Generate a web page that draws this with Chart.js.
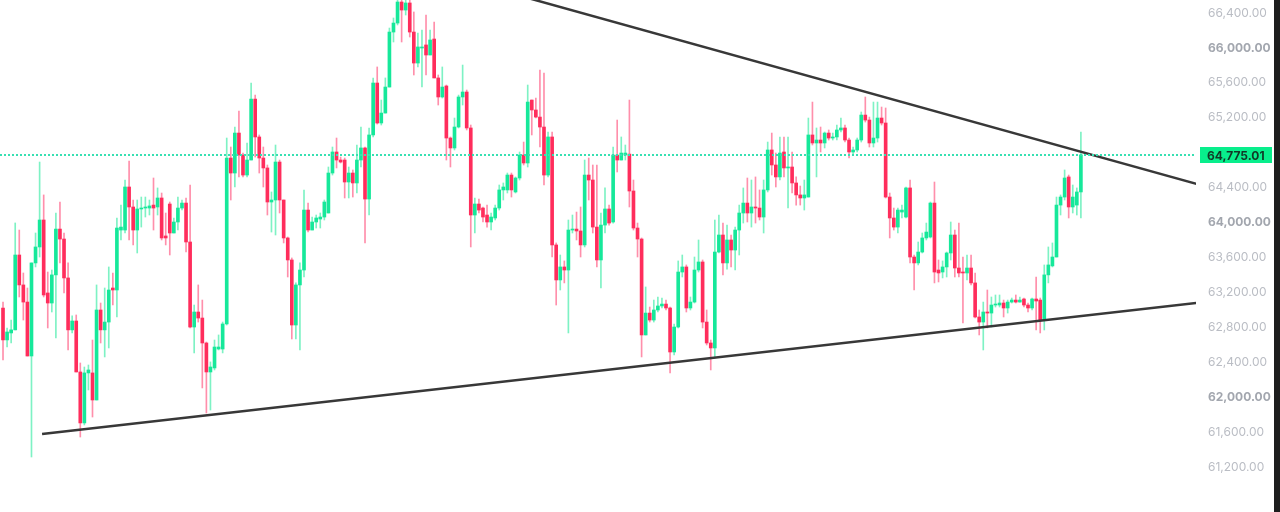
<!DOCTYPE html>
<html>
<head>
<meta charset="utf-8">
<title>BTC triángulo</title>
<script src="https://cdn.jsdelivr.net/npm/chart.js@4.4.1/dist/chart.umd.min.js"></script>
<style>
    html, body { margin: 0; padding: 0; background: #1e1e1e; }
    #wrap { width: 1274px; height: 512px; background: #ffffff; position: relative; }
</style>
</head>
<body>
<div id="wrap"><canvas id="candleChart"></canvas></div>
<script>
// Datos de las velas (apertura, máximo, mínimo, cierre)
const opens = [
    63020, 62655, 62735, 62770, 63628, 63285, 63089, 62471, 63537, 63720,
    64029, 63193, 63078, 63400, 63925, 63811, 63365, 62770, 62872, 62288,
    61704, 62277, 62277, 61967, 62998, 62770, 62860, 63250, 63227, 63914,
    63914, 64407, 64178, 63914, 64155, 64166, 64166, 64200, 64178, 64281,
    63846, 64212, 63880, 64006, 64166, 64223, 63777, 62803, 62975, 62906,
    62620, 62288, 62334, 62551, 62551, 62838, 64739, 64567, 65025, 64773,
    64544, 64716, 65414, 64980, 64739, 64625, 64235, 64258, 64693, 64258,
    63823, 63571, 62826, 63285, 63456, 64143, 63914, 64006, 64040, 64063,
    64109, 64567, 64808, 64716, 64716, 64464, 64567, 64453, 64716, 64854,
    64269, 65003, 65598, 65140, 65254, 65552, 66182, 66285, 66526, 66434,
    66515, 66182, 65827, 65999, 66034, 65919, 66102, 65656, 65438, 65564,
    64968, 64854, 65094, 65438, 65495, 65083, 64086, 64212, 64166, 64086,
    64006, 64052, 64166, 64373, 64373, 64544, 64350, 64510, 64773, 64682,
    65403, 65289, 65208, 65094, 64544, 64980, 63743, 63342, 63491, 63456,
    63914, 63925, 63903, 63743, 64544, 64487, 63948, 63571, 63971, 64155,
    64006, 64773, 64716, 64773, 64784, 64361, 63937, 63811, 62712, 62963,
    62883, 62998, 63044, 63066, 63021, 62517, 62803, 63433, 63491, 63021,
    63089, 63456, 63548, 62860, 62620, 62563, 63662, 63857, 63537, 63800,
    63685, 63914, 64109, 64223, 64109, 64178, 64166, 64063, 64373, 64831,
    64659, 64522, 64808, 64625, 64636, 64453, 64316, 64281, 64292, 65003,
    64911, 64945, 64911, 65025, 64968, 64980, 65060, 65083, 64945, 64808,
    64831, 64945, 65231, 65174, 64911, 64968, 65197, 65140, 64292, 64052,
    63948, 64120, 64063, 64396, 63605, 63537, 63662, 63823, 63834, 64223,
    63456, 63433, 63491, 63651, 63857, 63479, 63433, 63422, 63479, 63308,
    62918, 62860, 62975, 62963, 63055, 63055, 63078, 63021, 63089, 63112,
    63089, 63124, 63055, 63021, 63124, 63112, 62883, 63400, 63503, 63605,
    64200, 64292, 64522, 64178, 64200, 64350
];
const highs = [
    63090, 62791, 62883, 63995, 63914, 63422, 63250, 63537, 63880, 64693,
    64316, 63433, 63456, 64109, 64235, 63880, 63537, 62930, 62941, 62391,
    62345, 62368, 62654, 63285, 63078, 63250, 63491, 63422, 64052, 64200,
    64487, 64705, 64258, 64258, 64292, 64292, 64258, 64510, 64396, 64338,
    64109, 64235, 64052, 64292, 64258, 64281, 64430, 63055, 63285, 63112,
    62631, 62403, 62654, 62712, 62860, 64968, 64865, 65094, 65277, 64796,
    64911, 65598, 65460, 65003, 64865, 64659, 64350, 64888, 64716, 64258,
    63834, 63594, 63308, 63537, 64373, 64223, 64063, 64086, 64109, 64258,
    64636, 64865, 64968, 64750, 64739, 64636, 64602, 64888, 65094, 64865,
    65083, 65656, 65782, 65403, 65656, 66228, 66343, 66606, 66606, 66606,
    66606, 66412, 66171, 66205, 66377, 66205, 66297, 65690, 65782, 65575,
    64980, 65197, 65460, 65804, 65518, 65117, 64281, 64269, 64178, 64200,
    64109, 64200, 64430, 64453, 64567, 64567, 64522, 64808, 64922, 65575,
    65403, 65426, 65747, 65713, 65037, 65037, 63766, 63628, 63560, 64029,
    64086, 64120, 64178, 64716, 64739, 64659, 64659, 64109, 64396, 64200,
    64865, 65174, 64980, 64888, 65403, 64487, 63994, 63823, 63262, 63032,
    63112, 63147, 63135, 63112, 63032, 62838, 63560, 63628, 63514, 63147,
    63605, 63800, 63571, 62998, 62654, 64029, 64086, 63994, 63971, 63857,
    63948, 64200, 64396, 64510, 64487, 64522, 64373, 64487, 64922, 65025,
    64796, 64980, 64980, 64980, 64808, 64522, 64418, 64487, 65197, 65380,
    65083, 65094, 65037, 65060, 65025, 65117, 65197, 65117, 64968, 64865,
    64968, 65266, 65438, 65208, 65380, 65380, 65323, 65312, 64338, 64166,
    64166, 64200, 64407, 64487, 63628, 63777, 63880, 63994, 64235, 64464,
    63571, 63560, 63662, 64006, 63914, 63994, 63605, 63628, 63628, 63422,
    62998, 63089, 63227, 63147, 63170, 63170, 63112, 63112, 63135, 63170,
    63147, 63135, 63078, 63135, 63376, 63135, 63514, 63720, 63766, 64292,
    64316, 64602, 64544, 64430, 64396, 65037
];
const lows = [
    62425, 62574, 62620, 62770, 63147, 62883, 62471, 61314, 63491, 63605,
    63147, 62792, 62975, 62677, 63537, 63193, 62540, 62735, 62288, 61543,
    61681, 62082, 61772, 61967, 62620, 62460, 62563, 63055, 62918, 63800,
    63880, 63800, 63743, 63651, 63948, 64063, 64086, 63914, 64086, 63800,
    63743, 63628, 63880, 63914, 64143, 63662, 62792, 62506, 62860, 62105,
    61818, 61852, 62311, 62540, 62506, 62826, 64258, 64407, 64522, 64522,
    64522, 64716, 64750, 64567, 64407, 64086, 63891, 63857, 64109, 63766,
    63376, 62666, 62666, 62540, 63376, 63891, 63914, 63937, 63937, 64029,
    64109, 64544, 64625, 64682, 64281, 64281, 64292, 64338, 64636, 63766,
    64086, 64980, 65128, 65117, 65254, 65552, 66068, 66263, 66068, 66377,
    66125, 65690, 65782, 65552, 65690, 65919, 65656, 65346, 65426, 64716,
    64636, 64831, 65083, 65346, 65060, 63720, 63880, 64109, 64006, 63948,
    63914, 64029, 64143, 64258, 64338, 64292, 64338, 64487, 64659, 64636,
    65003, 65197, 64865, 64430, 64522, 63605, 63055, 63227, 63308, 62735,
    63880, 63800, 63605, 63720, 64258, 63880, 63491, 63250, 63880, 63971,
    63994, 64579, 64716, 64716, 64178, 63914, 63605, 62460, 62712, 62860,
    62860, 62975, 63021, 62998, 62277, 62483, 62792, 63376, 62975, 62998,
    63078, 63433, 62792, 62597, 62311, 62448, 63651, 63400, 63467, 63491,
    63456, 63628, 63994, 64006, 63948, 63994, 64029, 63880, 64350, 64544,
    64407, 64487, 64522, 64166, 64338, 64200, 64200, 64143, 64292, 64888,
    64522, 64808, 64854, 64945, 64945, 64945, 65037, 64922, 64739, 64773,
    64808, 64922, 65151, 64865, 64865, 64922, 65117, 64281, 63823, 63914,
    63880, 64052, 64052, 63537, 63227, 63514, 63651, 63800, 63823, 63308,
    63319, 63365, 63376, 63571, 63376, 63376, 62849, 63342, 63285, 62906,
    62712, 62540, 62792, 62803, 63032, 63032, 62918, 62963, 63078, 63078,
    63089, 63032, 62975, 62998, 62769, 62735, 62769, 63308, 63491, 63605,
    64086, 64258, 64052, 64109, 64086, 64052
];
const closes = [
    62655, 62746, 62770, 63628, 63285, 63089, 62471, 63537, 63720, 64029,
    63170, 63078, 63400, 63925, 63811, 63365, 62770, 62872, 62288, 61704,
    62277, 62311, 61967, 62998, 62770, 62860, 63227, 63227, 63937, 63948,
    64407, 64178, 63914, 64155, 64166, 64178, 64190, 64166, 64281, 63823,
    63823, 63880, 64006, 64166, 64223, 63777, 62803, 62975, 62906, 62620,
    62288, 62345, 62574, 62574, 62838, 64739, 64567, 65025, 64773, 64544,
    64716, 65414, 64980, 64739, 64625, 64235, 64258, 64693, 64258, 63823,
    63571, 62826, 63285, 63456, 64143, 63914, 64006, 64052, 64063, 64235,
    64567, 64808, 64716, 64693, 64464, 64567, 64453, 64716, 64854, 64269,
    65003, 65598, 65140, 65254, 65552, 66182, 66285, 66526, 66434, 66515,
    66182, 65827, 66011, 66011, 65919, 66091, 65656, 65438, 65552, 64968,
    64854, 65094, 65438, 65495, 65083, 64086, 64212, 64143, 64063, 64006,
    64063, 64166, 64373, 64407, 64544, 64373, 64510, 64773, 64682, 65380,
    65289, 65208, 65094, 64544, 64980, 63743, 63342, 63491, 63456, 63914,
    63925, 63903, 63743, 64544, 64487, 63948, 63571, 63971, 64155, 63994,
    64773, 64716, 64796, 64796, 64361, 63937, 63811, 62712, 62963, 62883,
    62998, 63044, 63066, 63021, 62517, 62803, 63433, 63491, 63021, 63089,
    63456, 63548, 62860, 62620, 62563, 63662, 63857, 63537, 63800, 63685,
    63914, 64109, 64223, 64109, 64178, 64166, 64063, 64373, 64831, 64659,
    64522, 64796, 64625, 64636, 64453, 64316, 64281, 64316, 65003, 64911,
    64945, 64911, 65025, 64968, 64980, 65060, 65083, 64945, 64808, 64831,
    64945, 65231, 65174, 64911, 64968, 65197, 65140, 64292, 64052, 63948,
    64143, 64143, 64396, 63605, 63537, 63662, 63823, 63891, 64223, 63433,
    63422, 63491, 63651, 63857, 63479, 63422, 63422, 63479, 63308, 62918,
    62860, 62975, 62963, 63055, 63066, 63078, 63021, 63089, 63112, 63089,
    63112, 63055, 63021, 63124, 63101, 62883, 63400, 63514, 63605, 64200,
    64292, 64510, 64178, 64292, 64350, 64775.01
];

// Marcas del eje de precios
const yTicks = [61200, 61600, 62000, 62400, 62800, 63200, 63600, 64000, 64400, 64800, 65200, 65600, 66000, 66400];

// Líneas de tendencia del triángulo (índice de vela, precio)
const upperLineX = [120, 293.5];
const upperLineY = [66689, 64441];
const lowerLineX = [9.6, 293.5];
const lowerLineY = [61578, 63078];

// Colores
const upColor = '#16e89a';
const downColor = '#ff2d5c';
const upWick = '#7ef2c4';
const downWick = '#ff8fab';

function isUp(i) {
    return closes[i] >= opens[i];
}

function formatPrice(v) {
    return v.toLocaleString('en-US', { minimumFractionDigits: 2, maximumFractionDigits: 2 });
}

// Marca en negrita cada 2000
function isMajor(c) {
    return c && c.tick && c.tick.value % 2000 === 0;
}

// Plugin para la línea punteada del último precio y su etiqueta
const lastPricePlugin = {
    id: 'lastPrice',
    afterDatasetsDraw(chart) {
        const { ctx, chartArea, scales } = chart;
        const price = closes[closes.length - 1];
        const y = Math.round(scales.y.getPixelForValue(price));
        ctx.save();
        // puntos de la línea de precio
        ctx.fillStyle = '#38e0b2';
        for (let x = chartArea.left; x < chartArea.right; x += 4) {
            ctx.fillRect(x, y - 1, 2, 2);
        }
        ctx.fillStyle = '#08ee8c';
        ctx.fillRect(chartArea.right + 4, y - 8, 72, 16);
        ctx.fillStyle = '#113826';
        ctx.font = 'bold 12px Inter, "Noto Sans", sans-serif';
        ctx.textBaseline = 'middle';
        ctx.textAlign = 'left';
        ctx.fillText(formatPrice(price), chartArea.right + 11, y + 1);
        ctx.restore();
    }
};

const ctx = document.getElementById('candleChart').getContext('2d');
const candleChart = new Chart(ctx, {
    type: 'bar',
    data: {
        datasets: [
            {
                type: 'line',
                data: upperLineX.map((x, i) => ({ x: x, y: upperLineY[i] })),
                borderColor: '#383838',
                borderWidth: 2.5,
                pointRadius: 0,
                order: 0
            },
            {
                type: 'line',
                data: lowerLineX.map((x, i) => ({ x: x, y: lowerLineY[i] })),
                borderColor: '#383838',
                borderWidth: 2.5,
                pointRadius: 0,
                order: 0
            },
            {
                // Cuerpos de las velas
                data: opens.map((o, i) => ({ x: i, y: [o, closes[i]] })),
                backgroundColor: c => isUp(c.dataIndex) ? upColor : downColor,
                barThickness: 3,
                minBarLength: 1,
                grouped: false,
                order: 1
            },
            {
                // Mechas
                data: lows.map((l, i) => ({ x: i, y: [l, highs[i]] })),
                backgroundColor: c => isUp(c.dataIndex) ? upWick : downWick,
                barThickness: 1,
                grouped: false,
                order: 2
            }
        ]
    },
    options: {
        responsive: true,
        maintainAspectRatio: false,
        animation: false,
        layout: { padding: 0 },
        plugins: {
            legend: { display: false },
            tooltip: { enabled: false }
        },
        scales: {
            x: {
                type: 'linear',
                display: false,
                offset: false,
                min: -0.74,
                max: 293.3
            },
            y: {
                position: 'right',
                min: 60684,
                max: 66549,
                grid: { display: false, drawTicks: false },
                border: { display: false },
                afterBuildTicks: s => { s.ticks = yTicks.map(v => ({ value: v })); },
                afterFit: s => { s.width = 78; s.paddingTop = 0; s.paddingBottom = 0; },
                ticks: {
                    padding: 12,
                    color: c => isMajor(c) ? '#a2a6ae' : '#babdc4',
                    font: c => ({
                        family: 'Inter, "Noto Sans", sans-serif',
                        size: 12,
                        weight: isMajor(c) ? 'bold' : 'normal'
                    }),
                    callback: v => formatPrice(v)
                }
            }
        }
    },
    plugins: [lastPricePlugin]
});
</script>
</body>
</html>
